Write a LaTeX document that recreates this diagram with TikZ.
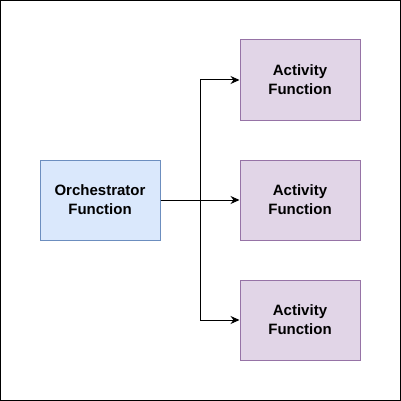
\documentclass[tikz,border=0pt]{standalone}
\usepackage{fontspec}
\setmainfont{Liberation Sans}
\usetikzlibrary{arrows.meta}
\definecolor{orchfill}{HTML}{DAE8FC}
\definecolor{orchline}{HTML}{6C8EBF}
\definecolor{actfill}{HTML}{E1D5E7}
\definecolor{actline}{HTML}{9673A6}
\begin{document}
\begin{tikzpicture}[x=1pt,y=-1pt,
  orchbox/.style={draw=orchline,fill=orchfill,minimum width=120pt,minimum height=80pt,inner sep=0pt,align=center,font=\fontsize{15}{19}\selectfont\bfseries,line width=1pt},
  actbox/.style={draw=actline,fill=actfill,minimum width=120pt,minimum height=80pt,inner sep=0pt,align=center,font=\fontsize{15}{19}\selectfont\bfseries,line width=1pt},
  conn/.style={draw=black,line width=1pt,-{Stealth[length=9pt,width=8pt]}}]
\draw[line width=1pt] (0.5,0.5) rectangle (400.5,400.5);
\node[orchbox] (orch) at (100,200) {Orchestrator\\Function};
\node[actbox] (a1) at (300,80) {Activity\\Function};
\node[actbox] (a2) at (300,200) {Activity\\Function};
\node[actbox] (a3) at (300,320) {Activity\\Function};
\coordinate (split) at (200,200);
\draw[conn] (orch.east) -- (a2.west);
\draw[conn] (orch.east) -- (split) |- (a1.west);
\draw[conn] (orch.east) -- (split) |- (a3.west);
\end{tikzpicture}
\end{document}
